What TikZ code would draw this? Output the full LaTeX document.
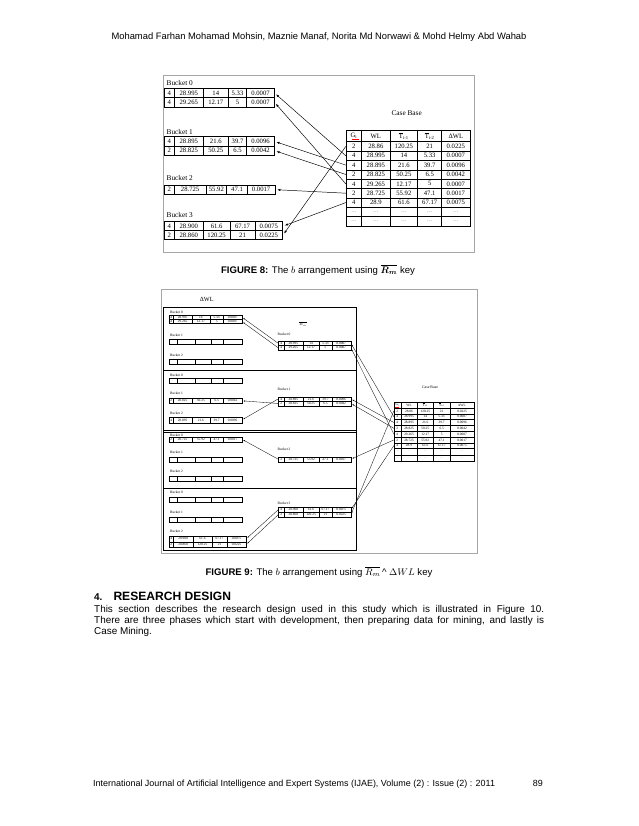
\documentclass[tikz,border=0pt]{standalone}
\usepackage{fix-cm}
\usepackage{fontspec}
\setmainfont{Liberation Sans}
\newfontfamily\tabserif{Liberation Serif}
\usetikzlibrary{arrows.meta}

\newdimen\pxu \pxu=0.96pt

\newcommand{\cellfontA}{\tabserif\fontsize{6.4}{7}\selectfont}
\newcommand{\cellfontB}{\tabserif\fontsize{3.3}{3.8}\selectfont}
\newcommand{\lblfontA}{\tabserif\fontsize{7}{8}\selectfont}
\newcommand{\lblfontB}{\tabserif\fontsize{3.4}{4}\selectfont}

% column borders of the tables
\def\colsP{{164.3,174.3,203.3,228.3,246.7,274.3}}
\def\colsQ{{164.3,174.3,206,226.7,247.3,275}}
\def\colsR{{164.3,174.3,203.3,230,255,282.7}}
\def\colsS{{346,361.7,390,417.7,441.7,470}}
\def\colsL{{169.3,173.3,191.7,210,223.3,241.7}}
\def\colsE{{169.3,176.7,195,210.7,223.3,241.7}}
\def\colsW{{169.3,173.3,193,212,227,246}}
\def\colsM{{278.3,284,302.7,319.3,331.7,350.7}}
\def\colsC{{394,400.7,417.3,433.3,450,474}}

% one row of a table: style, name, columns, top, bottom, texts
\newcommand{\tabrow}[6]{%
  \foreach \txt [count=\i] in {#6}{%
    \pgfmathsetmacro\xa{#3[\i-1]}%
    \pgfmathsetmacro\xb{#3[\i]}%
    \node[#1, minimum width={(\xb-\xa)*\pxu}, minimum height={((#5)-(#4))*\pxu}]
      (#2-\i) at ({(\xa+\xb)/2},{((#4)+(#5))/2}) {\txt};
  }%
}

% T with a bar over it
\newcommand{\Tbar}{\makebox[0pt][l]{\raisebox{0.74em}{\rule{0.6em}{0.05em}}}T}

\tikzset{
  cellA/.style={draw, line width=0.4pt, inner sep=0pt, font=\cellfontA},
  cellB/.style={draw, line width=0.3pt, inner sep=0pt, font=\cellfontB},
  lblA/.style={anchor=west, inner sep=0pt, font=\lblfontA},
  lblB/.style={anchor=west, inner sep=0pt, font=\lblfontB},
  connA/.style={-{Latex[length=3pt,width=2.2pt]}, line width=0.45pt, shorten >=2\pxu},
  connB/.style={-{Latex[length=1.7pt,width=1.3pt]}, line width=0.3pt, shorten >=1.5\pxu},
  figframe/.style={draw=black!35, line width=0.9pt},
  squiggle/.style={draw=red, line width=0.5pt},
}

\begin{document}
\begin{tikzpicture}[x=\pxu, y=-\pxu]
\useasboundingbox (0,0) rectangle (638,826);
\fill[white] (0,0) rectangle (638,826);

% page head and foot
\node[anchor=base, inner sep=0pt, font=\fontsize{9}{11}\selectfont] (head) at (319,40)
  {Mohamad Farhan Mohamad Mohsin, Maznie Manaf, Norita Md Norwawi \& Mohd Helmy Abd Wahab};
\node[anchor=base west, inner sep=0pt, font=\fontsize{8.6}{10}\selectfont] (foot) at (93,786)
  {International Journal of Artificial Intelligence and Expert Systems (IJAE), Volume (2) : Issue (2) : 2011};
\node[anchor=base east, inner sep=0pt, font=\fontsize{8.6}{10}\selectfont] (pageno) at (543,786) {89};

%%%%% Figure 8
\draw[figframe] (163,75) rectangle (474,252);

\node[lblA] (lbl0) at (166.5,83) {Bucket 0};
\tabrow{cellA}{b0a}{\colsP}{88.3}{97.7}{4,28.995,14,5.33,0.0007}
\tabrow{cellA}{b0b}{\colsP}{97.7}{107}{4,29.265,12.17,5,0.0007}
\node[lblA] (lbl1) at (166.5,131.7) {Bucket 1};
\tabrow{cellA}{b1a}{\colsP}{136.7}{146}{4,28.895,21.6,39.7,0.0096}
\tabrow{cellA}{b1b}{\colsP}{146}{155.3}{2,28.825,50.25,6.5,0.0042}
\node[lblA] (lbl2) at (166.5,178.3) {Bucket 2};
\tabrow{cellA}{b2a}{\colsQ}{185}{194.3}{2,28.725,55.92,47.1,0.0017}
\node[lblA] (lbl3) at (166.5,215) {Bucket 3};
\tabrow{cellA}{b3a}{\colsR}{221.7}{230.7}{4,28.900,61.6,67.17,0.0075}
\tabrow{cellA}{b3b}{\colsR}{230.7}{239.7}{2,28.860,120.25,21,0.0225}

\node[font=\lblfontA] (cbtitle) at (406.7,113.3) {Case Base};
\tabrow{cellA}{cbh}{\colsS}{130.7}{141.7}{G\textsubscript{i},WL,\Tbar\textsubscript{i-1},\Tbar\textsubscript{i-2},ΔWL}
\tabrow{cellA}{cb1}{\colsS}{141.7}{151.1}{2,28.86,120.25,21,0.0225}
\tabrow{cellA}{cb2}{\colsS}{151.1}{160.4}{4,28.995,14,5.33,0.0007}
\tabrow{cellA}{cb3}{\colsS}{160.4}{169.8}{4,28.895,21.6,39.7,0.0096}
\tabrow{cellA}{cb4}{\colsS}{169.8}{179.2}{2,28.825,50.25,6.5,0.0042}
\tabrow{cellA}{cb5}{\colsS}{179.2}{188.5}{4,29.265,12.17,5,0.0007}
\tabrow{cellA}{cb6}{\colsS}{188.5}{197.9}{2,28.725,55.92,47.1,0.0017}
\tabrow{cellA}{cb7}{\colsS}{197.9}{207.3}{4,28.9,61.6,67.17,0.0075}
\tabrow{cellA}{cb8}{\colsS}{207.3}{216.6}{\textcolor{black!40}{...},\textcolor{black!40}{...},\textcolor{black!40}{...},\textcolor{black!40}{...},\textcolor{black!40}{...}}
\tabrow{cellA}{cb9}{\colsS}{216.6}{226}{\textcolor{black!40}{...},\textcolor{black!40}{...},\textcolor{black!40}{...},\textcolor{black!40}{...},\textcolor{black!40}{...}}
\draw[squiggle] (351.5,139.6) -- (358.5,139.6);

\draw[connA] (cb1-1.west) -- (b3b-5.east);
\draw[connA] (cb2-1.west) -- (b0a-5.east);
\draw[connA] (cb3-1.west) -- (b1a-5.east);
\draw[connA] (cb4-1.west) -- (b1b-5.east);
\draw[connA] (cb5-1.west) -- (b0b-5.east);
\draw[connA] (cb6-1.west) -- (b2a-5.east);
\draw[connA] (cb7-1.west) -- (b3a-5.east);

\node[anchor=base, inner sep=0pt, font=\fontsize{9.2}{11}\selectfont] (cap8) at (318,273)
  {\textbf{FIGURE 8:} The $b$ arrangement using {\boldmath$\overline{R_m}$} key};

%%%%% Figure 9
\draw[figframe] (161.7,289.3) rectangle (477.3,553.3);
\draw[line width=0.4pt] (163.3,307.3) rectangle (356,550.7);
\draw[line width=0.4pt] (163.3,370) -- (356,370);
\draw[line width=0.4pt] (163.3,430.5) -- (356,430.5);
\draw[line width=0.4pt] (163.3,432.7) -- (356,432.7);
\draw[line width=0.4pt] (163.3,488.3) -- (356,488.3);

\node[font=\tabserif\fontsize{6}{7}\selectfont] (dwl) at (206.7,299.3) {ΔWL};

% left: buckets by delta WL
\node[lblB] (la0l) at (170,312) {Bucket 0};
\tabrow{cellB}{la0a}{\colsL}{315}{319.3}{4,28.995,14,5.33,0.0007}
\tabrow{cellB}{la0b}{\colsL}{319.3}{323.6}{4,29.265,12.17,5,0.0007}
\node[lblB] (la1l) at (170,335) {Bucket 1};
\tabrow{cellB}{la1}{\colsE}{339.3}{344}{{},{},{},{},{}}
\node[lblB] (la2l) at (170,355) {Bucket 2};
\tabrow{cellB}{la2}{\colsE}{359}{364}{{},{},{},{},{}}

\node[lblB] (lb0l) at (170,375) {Bucket 0};
\tabrow{cellB}{lb0}{\colsE}{378.3}{383.3}{{},{},{},{},{}}
\node[lblB] (lb1l) at (170,393.3) {Bucket 1};
\tabrow{cellB}{lb1}{\colsL}{398.3}{403.3}{2,28.825,50.25,6.5,0.0042}
\node[lblB] (lb2l) at (170,413) {Bucket 2};
\tabrow{cellB}{lb2}{\colsL}{417.3}{422.7}{4,28.895,21.6,39.7,0.0096}

\node[lblB] (lc0l) at (170,434.8) {Bucket 0};
\tabrow{cellB}{lc0}{\colsL}{436.7}{441.7}{2,28.725,55.92,47.1,0.0017}
\node[lblB] (lc1l) at (170,452.7) {Bucket 1};
\tabrow{cellB}{lc1}{\colsE}{456.7}{462}{{},{},{},{},{}}
\node[lblB] (lc2l) at (170,471.7) {Bucket 2};
\tabrow{cellB}{lc2}{\colsE}{476}{481.3}{{},{},{},{},{}}

\node[lblB] (ld0l) at (170,492.7) {Bucket 0};
\tabrow{cellB}{ld0}{\colsE}{496.7}{502}{{},{},{},{},{}}
\node[lblB] (ld1l) at (170,512.7) {Bucket 1};
\tabrow{cellB}{ld1}{\colsE}{516.7}{522}{{},{},{},{},{}}
\node[lblB] (ld2l) at (170,531.7) {Bucket 2};
\tabrow{cellB}{ld2a}{\colsW}{536}{541.7}{4,28.900,61.6,67.17,0.0075}
\tabrow{cellB}{ld2b}{\colsW}{541.7}{547.4}{2,28.860,120.25,21,0.0225}

% middle: buckets by R_m
\node[font=\fontsize{3.6}{4}\selectfont] (rm) at (303,324) {$\overline{R_m}$};
\node[lblB] (m0l) at (277.5,334.3) {Bucket 0};
\tabrow{cellB}{m0a}{\colsM}{341}{345.5}{4,28.995,14,5.33,0.0007}
\tabrow{cellB}{m0b}{\colsM}{345.5}{350}{4,29.265,12.17,5,0.0007}
\node[lblB] (m1l) at (277.5,389.3) {Bucket 1};
\tabrow{cellB}{m1a}{\colsM}{396.7}{401.2}{4,28.895,21.6,39.7,0.0096}
\tabrow{cellB}{m1b}{\colsM}{401.2}{405.7}{2,28.825,50.25,6.5,0.0042}
\node[lblB] (m2l) at (277.5,449.3) {Bucket 2};
\tabrow{cellB}{m2}{\colsM}{456.7}{461.7}{2,28.725,55.92,47.1,0.0017}
\node[lblB] (m3l) at (277.5,503.3) {Bucket 3};
\tabrow{cellB}{m3a}{\colsM}{507.3}{512.3}{4,28.900,61.6,67.17,0.0075}
\tabrow{cellB}{m3b}{\colsM}{512.3}{517.3}{2,28.860,120.25,21,0.0225}

% right: case base
\node[font=\tabserif\fontsize{3.7}{4}\selectfont] (kbtitle) at (430,387) {Case Base};
\tabrow{cellB}{kbh}{\colsC}{402}{408}{G\textsubscript{i},WL,\Tbar\textsubscript{i-1},\Tbar\textsubscript{i-2},ΔWL}
\tabrow{cellB}{kb1}{\colsC}{408}{413.8}{2,28.86,120.25,21,0.0225}
\tabrow{cellB}{kb2}{\colsC}{413.8}{419.6}{4,28.995,14,5.33,0.0007}
\tabrow{cellB}{kb3}{\colsC}{419.6}{425.4}{4,28.895,21.6,39.7,0.0096}
\tabrow{cellB}{kb4}{\colsC}{425.4}{431.2}{2,28.825,50.25,6.5,0.0042}
\tabrow{cellB}{kb5}{\colsC}{431.2}{437}{4,29.265,12.17,5,0.0007}
\tabrow{cellB}{kb6}{\colsC}{437}{442.8}{2,28.725,55.92,47.1,0.0017}
\tabrow{cellB}{kb7}{\colsC}{442.8}{448.6}{4,28.9,61.6,67.17,0.0075}
\tabrow{cellB}{kb8}{\colsC}{448.6}{454.8}{\textcolor{black!40}{...},\textcolor{black!40}{...},\textcolor{black!40}{...},\textcolor{black!40}{...},\textcolor{black!40}{...}}
\tabrow{cellB}{kb9}{\colsC}{454.8}{461.2}{\textcolor{black!40}{...},\textcolor{black!40}{...},\textcolor{black!40}{...},\textcolor{black!40}{...},\textcolor{black!40}{...}}
\draw[squiggle, line width=0.3pt] (395,407) -- (399,407);

\draw[connB] (kb2-1.west) -- (m0a-5.east);
\draw[connB] (kb5-1.west) -- (m0b-5.east);
\draw[connB] (kb3-1.west) -- (m1a-5.east);
\draw[connB] (kb4-1.west) -- (m1b-5.east);
\draw[connB] (kb6-1.west) -- (m2-5.east);
\draw[connB] (kb7-1.west) -- (m3a-5.east);
\draw[connB] (kb1-1.west) -- (m3b-5.east);

\draw[connB] (m0a-1.west) -- (la0a-5.east);
\draw[connB] (m0b-1.west) -- (la0b-5.east);
\draw[connB] (m1a-1.west) -- (lb2-5.east);
\draw[connB] (m1b-1.west) -- (lb1-5.east);
\draw[connB] (m2-1.west) -- (lc0-5.east);
\draw[connB] (m3a-1.west) -- (ld2a-5.east);
\draw[connB] (m3b-1.west) -- (ld2b-5.east);

\node[anchor=base, inner sep=0pt, font=\fontsize{9.2}{11}\selectfont] (cap9) at (319,575)
  {\textbf{FIGURE 9:} The $b$ arrangement using $\overline{R_m}$\,\textasciicircum\ $\Delta WL$ key};

%%%%% Section text
\node[anchor=base west, inner sep=0pt, font=\fontsize{9.5}{11}\selectfont\bfseries] (secno) at (94,600) {4.};
\node[anchor=base west, inner sep=0pt, font=\fontsize{11.6}{13}\selectfont\bfseries] (sectitle) at (113.3,600) {RESEARCH DESIGN};
\node[anchor=base west, inner sep=0pt, font=\fontsize{9.5}{10.75}\selectfont] (para) at (94,612)
  {\parbox[t]{450\pxu}{This section describes the research design used in this study which is illustrated in Figure 10.\linebreak
  There are three phases which start with development, then preparing data for mining, and lastly is\linebreak
  Case Mining.}};
\end{tikzpicture}
\end{document}
